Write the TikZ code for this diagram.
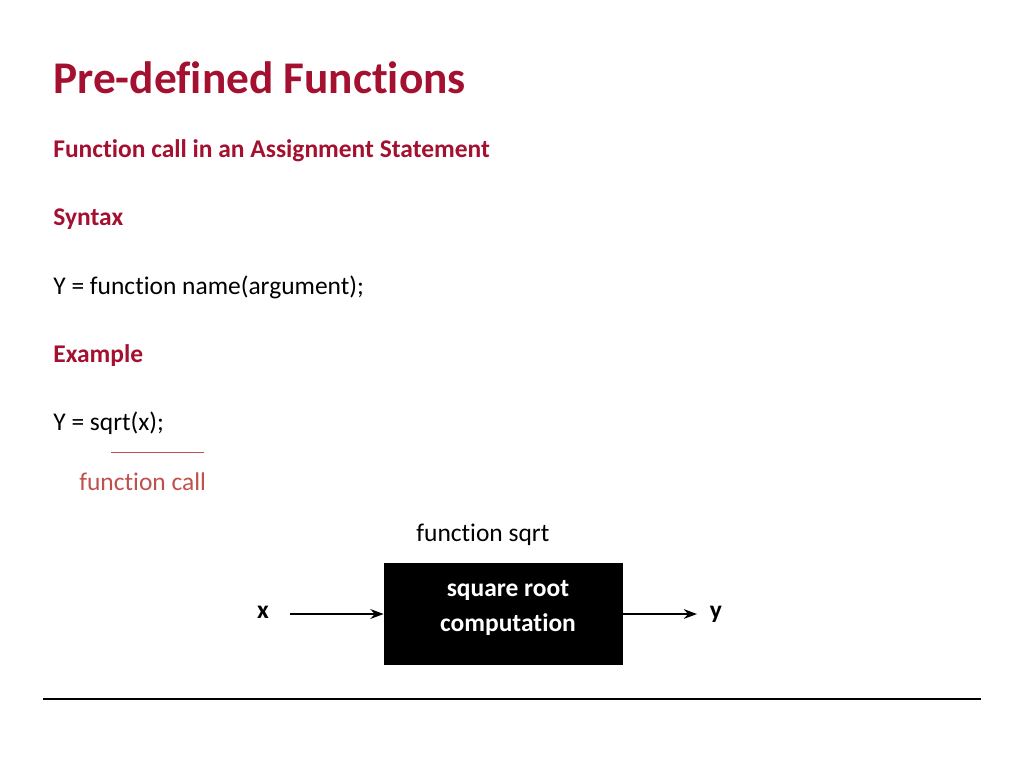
\documentclass[tikz,border=0pt]{standalone}
\usepackage{fontspec}
\setmainfont{Carlito}[Ligatures=NoCommon]
\usetikzlibrary{arrows.meta}
\definecolor{titlered}{RGB}{163,16,48}
\definecolor{callred}{RGB}{192,80,77}
\begin{document}
\begin{tikzpicture}[x=0.02cm,y=-0.02cm,
    txt/.style={anchor=base west,inner sep=0pt,font=\fontsize{14.5}{17}\selectfont},
    head/.style={txt,text=titlered,font=\fontsize{14.5}{17}\selectfont\bfseries},
    arr/.style={-{Stealth[length=7.5pt,width=5.5pt]},line width=1.4pt}]
      \useasboundingbox (0,0) rectangle (1024,768);
      \node[anchor=base west,inner sep=0pt,text=titlered,font=\fontsize{25.8}{30}\selectfont\bfseries] (title) at (53,93) {Pre-defined Functions};
      \node[head] (sub) at (53,157) {Function call in an Assignment Statement};
      \node[head] (syn) at (53,225) {Syntax};
      \node[txt] (form) at (53,294) {Y = function name(argument);};
      \node[head] (ex) at (53,362) {Example};
      \node[txt] (code) at (53,430) {Y = sqrt(x);};
      \draw[callred] (111,452) -- (204,452);
      \node[txt,text=callred,font=\fontsize{14.5}{17}\selectfont] (call) at (79,490) {function call};
      \node[txt] (fname) at (416,541) {function sqrt};
      % block
      \node[fill=black,minimum width=239*0.02cm,minimum height=102*0.02cm,inner sep=0pt] (box) at (503.5,614) {};
      \node[text=white,align=center,inner sep=0pt,font=\fontsize{14.5}{19.8}\selectfont\bfseries] (boxtxt) at (508,608)
        {square root\\computation};
      \node[anchor=base,inner sep=1pt,font=\fontsize{14.5}{17}\selectfont\bfseries] (xin) at (263,618) {x};
      \node[anchor=base,inner sep=1pt,font=\fontsize{14.5}{17}\selectfont\bfseries] (yout) at (716,618) {y};
      \draw[arr] (290,614) coordinate (xs) -- (box.west);
      \draw[arr] (box.east) -- (697,614) coordinate (ye);
      \draw[line width=0.8pt] (43,699) -- (981,699);
    \end{tikzpicture}
\end{document}
